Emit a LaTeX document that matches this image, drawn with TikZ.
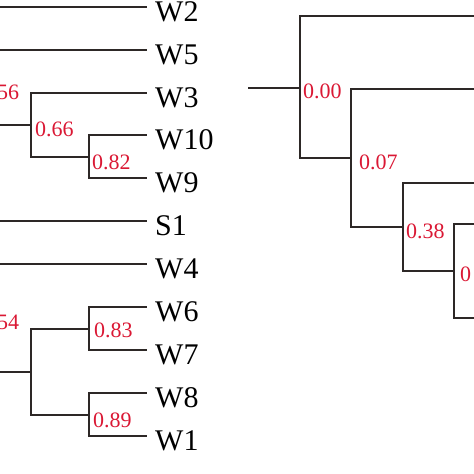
\documentclass[tikz,border=0pt]{standalone}
\usepackage{fontspec}
\setmainfont{Liberation Serif}
\usepackage{tikz}
\usetikzlibrary{calc}
\definecolor{TreeGray}{RGB}{45,40,38}
\definecolor{BootRed}{RGB}{218,24,52}
\tikzset{
  branch/.style={draw=TreeGray, line width=2pt, line cap=rect},
  leaf/.style={anchor=base west, inner sep=0pt, text=black, font=\fontsize{30}{30}\selectfont},
  boot/.style={anchor=base west, inner sep=0pt, text=BootRed, font=\fontsize{22}{22}\selectfont}
}

\begin{document}
\begin{tikzpicture}[x=1pt, y=-1pt]
  \useasboundingbox (0,0) rectangle (474,474);
  \clip (0,0) rectangle (474,474);
  % left tree: ends of the leaf lines and their labels
  \foreach \name/\y in {W2/7, W5/50, W3/93, W10/135, W9/178, S1/221, W4/264, W6/307, W7/350, W8/393, W1/436} {
    \coordinate (\name) at (146,\y);
    \node[leaf] (t\name) at (155,\y+14) {\name};
  }
  \coordinate (w2in) at (-40,7);
  \coordinate (s1in) at (-40,221);
  % inner nodes of the left tree
  \coordinate (n82) at (89,156.5);
  \coordinate (n66) at (31,124.75);
  \coordinate (n56) at (-23,87.4);
  \coordinate (n83) at (89,328.5);
  \coordinate (n89) at (89,414.5);
  \coordinate (n71) at (31,371.5);
  \coordinate (n54) at (-23,317.75);
  \draw[branch] (w2in) -- (W2);
  \draw[branch] (s1in) -- (S1);
  \draw[branch] (n82) |- (W10); \draw[branch] (n82) |- (W9);
  \draw[branch] (n66) |- (W3);  \draw[branch] (n66) |- (n82);
  \draw[branch] (n56) |- (W5);  \draw[branch] (n56) |- (n66);
  \draw[branch] (n83) |- (W6);  \draw[branch] (n83) |- (W7);
  \draw[branch] (n89) |- (W8);  \draw[branch] (n89) |- (W1);
  \draw[branch] (n71) |- (n83); \draw[branch] (n71) |- (n89);
  \draw[branch] (n54) |- (W4);  \draw[branch] (n54) |- (n71);
  \draw[branch] (n56) -- ++(-30,0);
  \draw[branch] (n54) -- ++(-30,0);
  % right tree
  \coordinate (rin) at (249,88);
  \coordinate (r00) at (300,88);
  \coordinate (r07) at (351,158);
  \coordinate (r38) at (403,227);
  \coordinate (rxx) at (454,271);
  \foreach \name/\y in {ra/16, rb/89, rc/183, rd/224, re/318}
    \coordinate (\name) at (490,\y);
  \draw[branch] (rin) -- (r00);
  \draw[branch] (r00) |- (ra);  \draw[branch] (r00) |- (r07);
  \draw[branch] (r07) |- (rb);  \draw[branch] (r07) |- (r38);
  \draw[branch] (r38) |- (rc);  \draw[branch] (r38) |- (rxx);
  \draw[branch] (rxx) |- (rd);  \draw[branch] (rxx) |- (re);
  % support values
  \node[boot] (b56) at ($(n56)+(3.5,12.5)$) {0.56};
  \node[boot] (b66) at ($(n66)+(4,11.5)$) {0.66};
  \node[boot] (b82) at ($(n82)+(3,13)$) {0.82};
  \node[boot] (b54) at ($(n54)+(3.5,12)$) {0.54};
  \node[boot] (b83) at ($(n83)+(5,9)$) {0.83};
  \node[boot] (b89) at ($(n89)+(4,12.5)$) {0.89};
  \node[boot] (b00) at ($(r00)+(3,10)$) {0.00};
  \node[boot] (b07) at ($(r07)+(8,11)$) {0.07};
  \node[boot] (b38) at ($(r38)+(3,11)$) {0.38};
  \node[boot] (bxx) at ($(rxx)+(6,10)$) {0};
\end{tikzpicture}
\end{document}
